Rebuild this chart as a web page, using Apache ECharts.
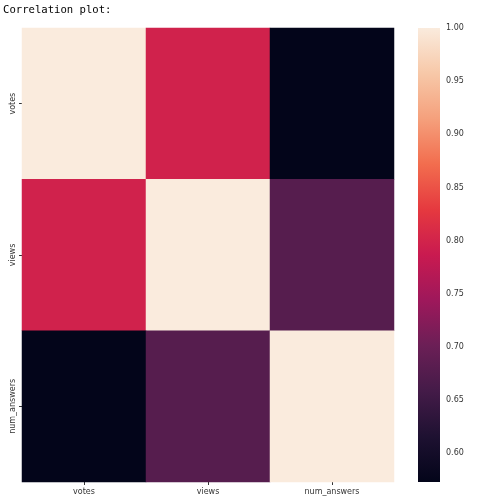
<!DOCTYPE html>
<html>
<head>
<meta charset="utf-8">
<script src="https://cdn.jsdelivr.net/npm/echarts@6/dist/echarts.min.js"></script>
<style>
html,body{margin:0;padding:0;background:#fff;}
#title{position:absolute;left:3px;top:3px;font-family:"DejaVu Sans Mono",monospace;font-size:10.6px;color:#000;white-space:pre;}
#chart{position:absolute;left:0;top:0;width:486px;height:502px;}
</style>
</head>
<body>
<div id="chart"></div>
<div id="title">Correlation plot:</div>
<script>
const categories = ['votes', 'views', 'num_answers'];
const votesRow = [1.0, 0.797, 0.573];
const viewsRow = [0.797, 1.0, 0.678];
const answersRow = [0.573, 0.678, 1.0];
const colorbarTicks = [0.60, 0.65, 0.70, 0.75, 0.80, 0.85, 0.90, 0.95, 1.00];
const vmin = 0.573, vmax = 1.0;
const rocket = ['#03051a', '#1e1131', '#441b48', '#6b1f56', '#9e185b', '#c91a50',
                '#e5393f', '#f26d4e', '#f5a07c', '#f7c8a8', '#faebdd'];

const rows = [votesRow, viewsRow, answersRow];
const data = [];
rows.forEach((row, yi) => row.forEach((v, xi) => data.push([xi, yi, v])));

const labelStyle = {fontFamily: 'DejaVu Sans', fontSize: 8, color: '#333'};
const chart = echarts.init(document.getElementById('chart'), null, {renderer: 'canvas'});
chart.setOption({
  animation: false,
  backgroundColor: '#fff',
  grid: [
    {left: 22, top: 28, width: 372, height: 454},
    {left: 418, top: 28, width: 22, height: 454}
  ],
  xAxis: [
    {type: 'category', gridIndex: 0, data: categories, position: 'bottom',
     axisLine: {show: false}, splitLine: {show: false},
     axisTick: {show: true, alignWithLabel: true, length: 3, lineStyle: {color: '#333'}},
     axisLabel: Object.assign({margin: 6}, labelStyle)},
    {type: 'value', gridIndex: 1, show: false, min: 0, max: 1}
  ],
  yAxis: [
    {type: 'category', gridIndex: 0, data: categories, inverse: true,
     axisLine: {show: false}, splitLine: {show: false},
     axisTick: {show: true, alignWithLabel: true, length: 3, lineStyle: {color: '#333'}},
     axisLabel: Object.assign({margin: 5, rotate: 90, verticalAlign: 'bottom', align: 'center'}, labelStyle)},
    {type: 'value', gridIndex: 1, position: 'right', min: vmin, max: vmax,
     axisLine: {show: false}, splitLine: {show: false},
     axisTick: {show: true, length: 3, lineStyle: {color: '#333'}, customValues: colorbarTicks},
     axisLabel: Object.assign({margin: 6, customValues: colorbarTicks, formatter: v => v.toFixed(2)}, labelStyle)}
  ],
  visualMap: {
    type: 'continuous', min: vmin, max: vmax, seriesIndex: 0, show: false,
    inRange: {color: rocket}
  },
  series: [
    {type: 'heatmap', xAxisIndex: 0, yAxisIndex: 0, data: data,
     itemStyle: {borderWidth: 0}, emphasis: {disabled: true}},
    {type: 'custom', xAxisIndex: 1, yAxisIndex: 1, silent: true,
     data: [[0, vmin, 1, vmax]],
     renderItem: function (params, api) {
       const p0 = api.coord([api.value(0), api.value(3)]);
       const p1 = api.coord([api.value(2), api.value(1)]);
       const stops = rocket.map((c, i) => ({offset: i / (rocket.length - 1), color: c}));
       return {
         type: 'rect',
         shape: {x: p0[0], y: p0[1], width: p1[0] - p0[0], height: p1[1] - p0[1]},
         style: {fill: new echarts.graphic.LinearGradient(0, 1, 0, 0, stops)}
       };
     }}
  ]
});
</script>
</body>
</html>
